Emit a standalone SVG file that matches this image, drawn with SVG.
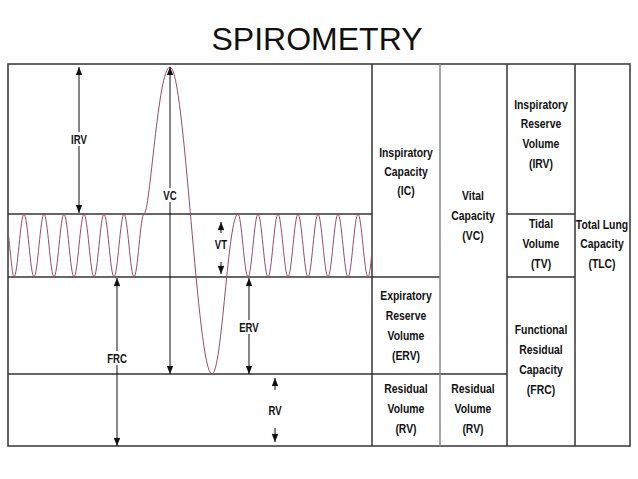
<svg xmlns="http://www.w3.org/2000/svg" width="638" height="479" viewBox="0 0 638 479">
<defs>
<marker id="ah" viewBox="0 0 10 10" refX="10" refY="5" markerWidth="8" markerHeight="8" orient="auto-start-reverse" markerUnits="userSpaceOnUse"><path d="M0,1 L10,5 L0,9 Z" fill="#111"/></marker>
<style>
.ln{stroke:#333;stroke-width:1.5;fill:none}
.lg{stroke:#888;stroke-width:1.5;fill:none}
.ar{stroke:#111;stroke-width:1;marker-start:url(#ah);marker-end:url(#ah)}
.ah1{stroke:#111;stroke-width:1;marker-end:url(#ah)}
.lb{font-family:"Liberation Sans",Arial,sans-serif;font-weight:bold;font-size:12px;fill:#111;text-anchor:middle}
.tt{font-family:"Liberation Sans",Arial,sans-serif;font-weight:bold;font-size:13px;fill:#111;text-anchor:middle}
</style>
</defs>
<rect width="638" height="479" fill="#fff"/>
<text x="317" y="50" font-family="Liberation Sans,sans-serif" font-size="32" text-anchor="middle" fill="#111">SPIROMETRY</text>
<g id="frame">
<rect x="8" y="64" width="622" height="382" class="ln"/>
<line x1="8" y1="214" x2="372" y2="214" class="ln"/>
<line x1="8" y1="277" x2="440" y2="277" class="ln"/>
<line x1="8" y1="374" x2="507" y2="374" class="ln"/>
<line x1="372" y1="64" x2="372" y2="446" class="ln"/>
<line x1="440" y1="64" x2="440" y2="446" class="lg"/>
<line x1="507" y1="64" x2="507" y2="446" class="ln"/>
<line x1="575" y1="64" x2="575" y2="446" class="ln"/>
<line x1="507" y1="214" x2="575" y2="214" class="ln"/>
<line x1="507" y1="277" x2="575" y2="277" class="ln"/>
</g>
<g id="wave">
<path fill="none" stroke="#9a4a6e" stroke-width="1" d="M8,232 C10,245 12,277 14,277 M14,277 C17.6,277 20.4,214 24,214 C27.6,214 30.4,277 34,277 C37.6,277 40.4,214 44,214 C47.6,214 50.4,277 54,277 C57.6,277 60.4,214 64,214 C67.6,214 70.4,277 74,277 C77.6,277 80.4,214 84,214 C87.6,214 90.4,277 94,277 C97.6,277 100.4,214 104,214 C107.6,214 110.4,277 114,277 C117.6,277 120.4,214 124,214 C127.6,214 130.4,277 134,277 C137.6,277 140.4,214 144,214 C150,214 158,67 170,67 C185,67 197,374 212,374 C222,374 228,214 238,214 C241.6,214 244.4,277 248,277 C251.6,277 254.4,214 258,214 C261.6,214 264.4,277 268,277 C271.6,277 274.4,214 278,214 C281.6,214 284.4,277 288,277 C291.6,277 294.4,214 298,214 C301.6,214 304.4,277 308,277 C311.6,277 314.4,214 318,214 C321.6,214 324.4,277 328,277 C331.6,277 334.4,214 338,214 C341.6,214 344.4,277 348,277 C351.6,277 354.4,214 358,214 C361.6,214 364.4,277 368,277 C369.6,277 371,262 372,250"/>
</g>
<g id="connectors">
<line x1="79" y1="67" x2="79" y2="213" class="ar"/>
<line x1="170" y1="67" x2="170" y2="374" class="ar"/>
<line x1="117" y1="278" x2="117" y2="446" class="ar"/>
<line x1="249" y1="278" x2="249" y2="374" class="ar"/>
<line x1="221" y1="233" x2="221" y2="222" class="ah1"/>
<line x1="221" y1="262" x2="221" y2="274" class="ah1"/>
<line x1="275" y1="390" x2="275" y2="378" class="ah1"/>
<line x1="275" y1="428" x2="275" y2="442" class="ah1"/>
</g>
<rect x="70" y="132" width="18" height="14" fill="#fff"/>
<rect x="162" y="188" width="16" height="14" fill="#fff"/>
<rect x="239" y="320" width="20" height="14" fill="#fff"/>
<rect x="107" y="351" width="20" height="14" fill="#fff"/>
<g id="labels" transform="scale(0.8,1)">
<text x="98.75" y="144" class="lb">IRV</text>
<text x="212.5" y="200" class="lb">VC</text>
<text x="276.25" y="249" class="lb">VT</text>
<text x="311.25" y="332" class="lb">ERV</text>
<text x="146.25" y="363" class="lb">FRC</text>
<text x="343.75" y="415" class="lb">RV</text>
</g>
<g id="table" transform="scale(0.8,1)">
<text class="tt"><tspan x="507.5" y="157">Inspiratory</tspan><tspan x="507.5" y="176">Capacity</tspan><tspan x="507.5" y="195">(IC)</tspan></text>
<text class="tt"><tspan x="507.5" y="300">Expiratory</tspan><tspan x="507.5" y="320">Reserve</tspan><tspan x="507.5" y="340">Volume</tspan><tspan x="507.5" y="360">(ERV)</tspan></text>
<text class="tt"><tspan x="507.5" y="393">Residual</tspan><tspan x="507.5" y="413">Volume</tspan><tspan x="507.5" y="433">(RV)</tspan></text>
<text class="tt"><tspan x="591.25" y="200">Vital</tspan><tspan x="591.25" y="220">Capacity</tspan><tspan x="591.25" y="240">(VC)</tspan></text>
<text class="tt"><tspan x="591.25" y="393">Residual</tspan><tspan x="591.25" y="413">Volume</tspan><tspan x="591.25" y="433">(RV)</tspan></text>
<text class="tt"><tspan x="676.25" y="109">Inspiratory</tspan><tspan x="676.25" y="128">Reserve</tspan><tspan x="676.25" y="148">Volume</tspan><tspan x="676.25" y="168">(IRV)</tspan></text>
<text class="tt"><tspan x="676.25" y="228">Tidal</tspan><tspan x="676.25" y="248">Volume</tspan><tspan x="676.25" y="268">(TV)</tspan></text>
<text class="tt"><tspan x="676.25" y="334">Functional</tspan><tspan x="676.25" y="354">Residual</tspan><tspan x="676.25" y="374">Capacity</tspan><tspan x="676.25" y="394">(FRC)</tspan></text>
<text class="tt"><tspan x="752.5" y="229">Total Lung</tspan><tspan x="752.5" y="248">Capacity</tspan><tspan x="752.5" y="268">(TLC)</tspan></text>
</g>
</svg>
